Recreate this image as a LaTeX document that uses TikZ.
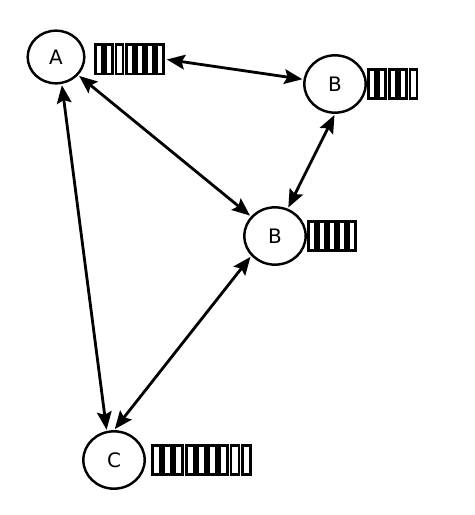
\documentclass[tikz,border=0pt]{standalone}
\usepackage{fontspec}
\setmainfont{DejaVu Sans}
\usepackage{tikz}
\usetikzlibrary{shapes.geometric, arrows.meta, positioning}
\tikzset{
  station/.style={ellipse, draw, line width=2.1pt, minimum width=1.84cm,
              minimum height=1.72cm, inner sep=0pt, font=\fontsize{17}{20}\selectfont},
  queue/.style={rectangle, minimum height=0.93cm, minimum width=#1, inner sep=0pt},
  cell/.style={rectangle, draw, line width=2.5pt, minimum height=0.88cm,
              minimum width=#1, inner sep=0pt, anchor=west},
  cell/.default=0.21cm,
  link/.style={{Stealth[length=0.54cm, width=0.44cm, inset=0.09cm]}-{Stealth[length=0.54cm, width=0.44cm, inset=0.09cm]},
              line width=2.4pt, shorten <=1pt, shorten >=1pt},
}

\begin{document}
\begin{tikzpicture}[x=0.03cm, y=-0.03cm]
  \useasboundingbox (0,0) rectangle (474,515);

  % stations
  \node[station, minimum width=1.7cm, minimum height=1.58cm] (A) at (56,57) {A};
  \node[station] (B1) at (335,84) {B};
  \node[station] (B2) at (275,236) {B};
  \node[station] (C) at (114,460) {C};

  % waiting lines
  \node[queue=2.13cm, right=0.26cm of A, yshift=-0.07cm] (qA) {};
  \node[queue=1.56cm, right=0cm of B1] (qB1) {};
  \node[queue=1.5cm, right=0cm of B2] (qB2) {};
  \node[queue=3.03cm, right=0.15cm of C] (qC) {};
  \foreach \k in {0,...,6}
    \node[cell] at ([xshift=\k*0.305cm]qA.west) {};
  \foreach \k in {0,...,4}
    \node[cell] at ([xshift=\k*0.312cm]qB1.west) {};
  \foreach \k in {0,...,4}
    \node[cell] at ([xshift=\k*0.3cm]qB2.west) {};
  \foreach \k in {0,...,8}
    \node[cell=0.24cm] at ([xshift=\k*0.337cm]qC.west) {};

  % links
  \draw[link] (qA.east) -- (B1);
  \draw[link] (A) -- (B2);
  \draw[link] (A.-78) -- (C.104);
  \draw[link] (B1.south) -- (B2.65);
  \draw[link] (B2.220) -- (C.north);
\end{tikzpicture}
\end{document}
